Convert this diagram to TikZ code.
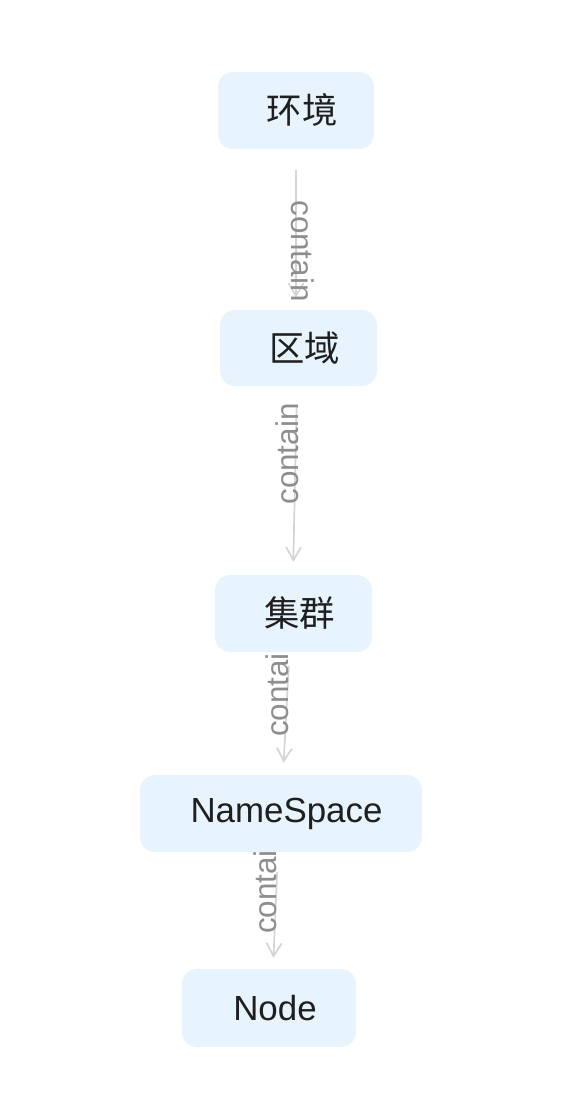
\documentclass[tikz,border=0pt]{standalone}
\usepackage{fontspec}
\setmainfont{Liberation Sans}
\newfontfamily\cjk{Noto Sans CJK SC}
\usetikzlibrary{arrows.meta}
\definecolor{boxfill}{HTML}{E8F4FD}
\definecolor{txt}{HTML}{1F1F1F}
\definecolor{edgecol}{HTML}{D4D4D4}
\definecolor{labcol}{HTML}{8E8E8E}
\tikzset{
  box/.style={rectangle, rounded corners=15bp, fill=boxfill, draw=none, inner sep=0pt, text=txt},
  cjkbox/.style={box, font=\cjk\fontsize{35.5}{42}\selectfont},
  latbox/.style={box, font=\fontsize{35}{42}\selectfont},
  edge/.style={draw=edgecol, line width=1.7bp, -{Straight Barb[length=13bp,width=15bp,line width=1.7bp]}},
  elabel/.style={text=labcol, font=\fontsize{31.5}{36}\selectfont, inner sep=0pt}
}
\begin{document}
\begin{tikzpicture}[x=1bp,y=-1bp]
\useasboundingbox (0,0) rectangle (570,1100);
\node[cjkbox, minimum width=156bp, minimum height=77bp] (env) at (296,110.5) {\hspace*{12bp}环境};
\node[cjkbox, minimum width=157bp, minimum height=76bp] (region) at (298.5,348) {\hspace*{12bp}区域};
\node[cjkbox, minimum width=157bp, minimum height=77bp] (cluster) at (293.5,613.5) {\hspace*{12bp}集群};
\node[latbox, minimum width=282bp, minimum height=77bp] (ns) at (281,813.5) {\hspace*{11bp}NameSpace};
\node[latbox, minimum width=174bp, minimum height=78bp] (nd) at (269,1008) {\hspace*{12bp}Node};

\draw[edge, shorten <=21bp, shorten >=12bp] (env.south) -- ([xshift=-2.5bp]region.north);
\draw[edge, shorten <=21bp, shorten >=13bp] ([xshift=-1.5bp]region.south) -- ([xshift=-0.5bp]cluster.north);
\draw[edge, shorten <=14bp, shorten >=12bp] ([xshift=-4bp]cluster.south) -- ([xshift=2bp]ns.north);
\draw[edge, shorten <=20bp, shorten >=11bp] ([xshift=-3bp]ns.south) -- ([xshift=4bp]nd.north);

\node[elabel, rotate=-90] (l1) at (303,251) {contain};
\node[elabel, rotate=90] (l2) at (287,454) {contain};
\node[elabel, rotate=90] (l3) at (277,695) {contai};
\node[elabel, rotate=90] (l4) at (265,892) {contai};
\end{tikzpicture}
\end{document}
